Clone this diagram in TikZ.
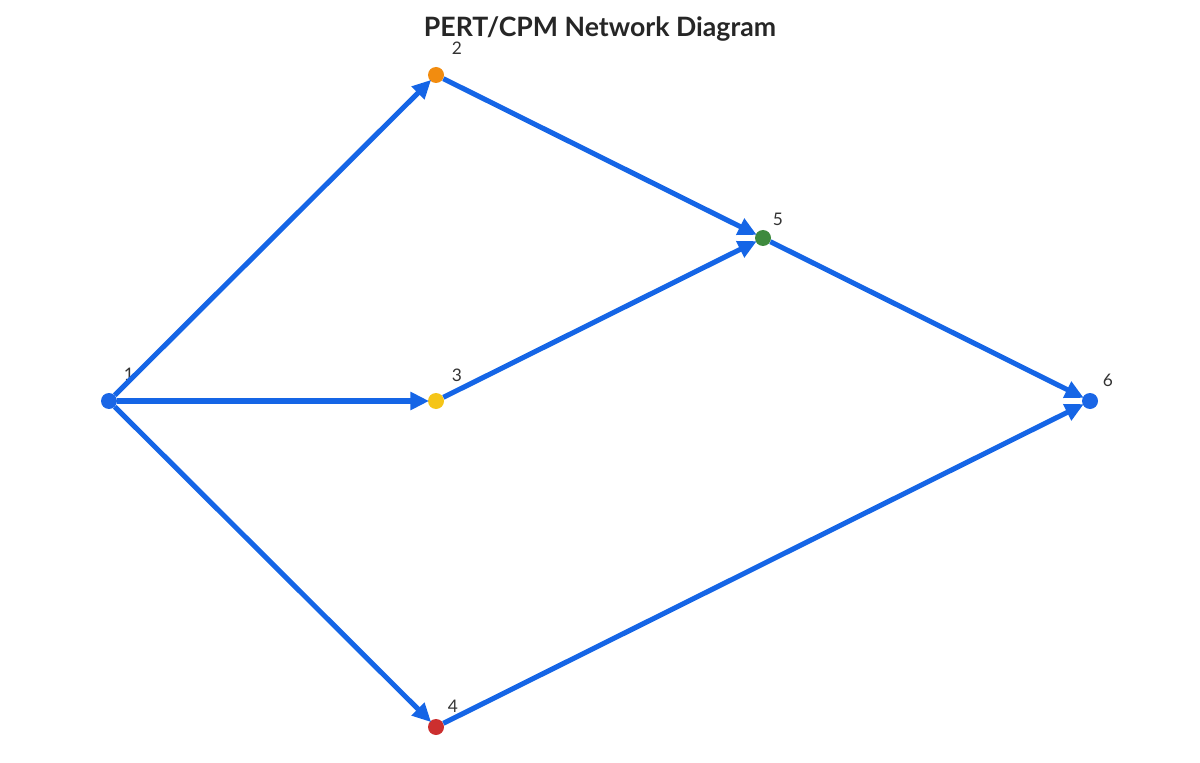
\documentclass[tikz,border=0pt]{standalone}
\usepackage{fontspec}
\setmainfont{Lato}
\usetikzlibrary{arrows.meta}
\definecolor{edge}{HTML}{1565E6}
\definecolor{nblue}{HTML}{1A66E6}
\definecolor{norange}{HTML}{F28C0F}
\definecolor{nyellow}{HTML}{F5C518}
\definecolor{nred}{HTML}{CC2F2F}
\definecolor{ngreen}{HTML}{3E8A3E}
\begin{document}
\begin{tikzpicture}[x=0.75pt,y=-0.75pt,
  pt/.style={circle,fill=#1,inner sep=0pt,minimum size=12pt},
  lab/.style={font=\fontsize{13}{13}\selectfont,text=black!80},
  e/.style={draw=edge,line width=3.8pt,-{Triangle[length=14pt,width=13pt]},shorten >=-1pt}]
\useasboundingbox (0,0) rectangle (1200,763);
\node[font=\bfseries\fontsize{20}{20}\selectfont,text=black!85] (t) at (600,29) {PERT/CPM Network Diagram};
\node[pt=nblue] (n1) at (109,401) {};
\node[pt=norange] (n2) at (436,75) {};
\node[pt=nyellow] (n3) at (436,401) {};
\node[pt=nred] (n4) at (436,727) {};
\node[pt=ngreen] (n5) at (763,238) {};
\node[pt=nblue] (n6) at (1090,401) {};
\node[lab] (l1) at (129,374) {1};
\node[lab] (l2) at (457,48) {2};
\node[lab] (l3) at (457,375) {3};
\node[lab] (l4) at (453,706) {4};
\node[lab] (l5) at (778,219) {5};
\node[lab] (l6) at (1108,380) {6};
\draw[e] (n1) -- (n2);
\draw[e] (n1) -- (n3);
\draw[e] (n1) -- (n4);
\draw[e] (n2) -- (n5);
\draw[e] (n3) -- (n5);
\draw[e] (n5) -- (n6);
\draw[e] (n4) -- (n6);
\end{tikzpicture}
\end{document}
